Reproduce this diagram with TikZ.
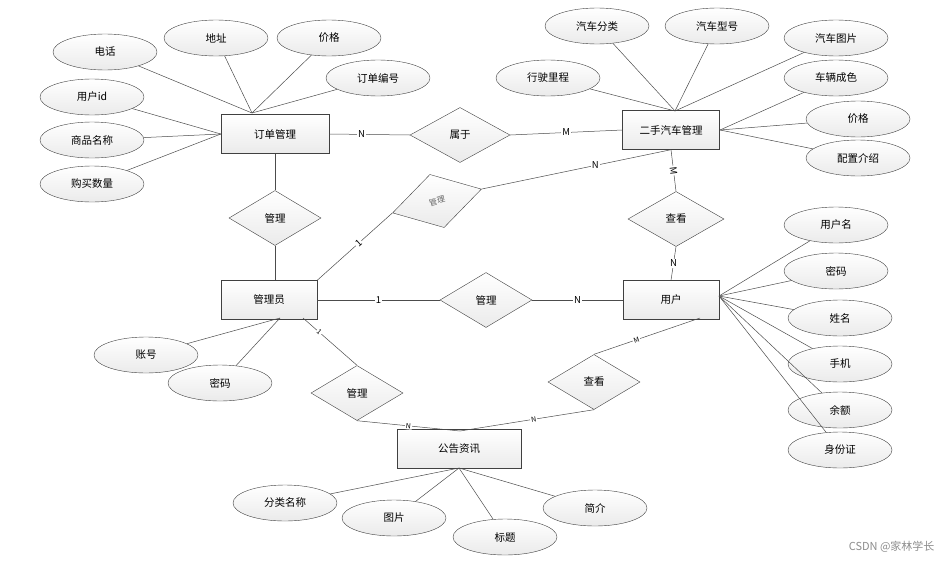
\documentclass[tikz,border=0pt]{standalone}
\usepackage{fontspec}
\setmainfont{Noto Sans CJK SC}
\usetikzlibrary{shapes.geometric}
\begin{document}
\begin{tikzpicture}[x=1pt,y=-1pt,font=\fontsize{10.5}{12}\selectfont,
 ent/.style={draw=black!75,top color=white,bottom color=black!8,minimum width=#1,minimum height=39,inner sep=0},
 rel/.style={diamond,aspect=1.7,draw=black!75,top color=white,bottom color=black!8,minimum width=92,minimum height=55,inner sep=0},
 att/.style={ellipse,draw=black!75,top color=white,bottom color=black!8,minimum width=104,minimum height=36,inner sep=0},
 ln/.style={draw=black!70,line width=0.5pt},
 lab/.style={fill=white,inner sep=1pt,font=\fontsize{9.5}{10}\selectfont}]
\useasboundingbox (0,0) rectangle (941,562);
% entities
\node[ent=108] (dd) at (275,134) {订单管理};
\node[ent=97] (car) at (671,130) {二手汽车管理};
\node[ent=96] (adm) at (269,300) {管理员};
\node[ent=96] (usr) at (671,300) {用户};
\node[ent=124] (ggs) at (459,449) {公告资讯};
% relations
\node[rel,minimum width=100] (sy) at (460,135) {属于};
\node[rel] (gl1) at (275,218) {管理};
\node[rel,minimum width=96] (ck1) at (676,219) {查看};
\node[rel] (gl2) at (486,300) {管理};
\node[rel] (gl3) at (357,393) {管理};
\node[rel] (ck2) at (594,382) {查看};
\node[rel,rotate=15,font=\fontsize{8}{9}\selectfont,text=black!60] (glt) at (437,201) {管理};
% attributes
\foreach \n/\p/\t in {a1/{105,52}/电话, a2/{216,38}/地址, a3/{329,38}/价格, a4/{378,78}/订单编号, a5/{92,97}/用户id, a6/{92,140}/商品名称, a7/{92,184}/购买数量,
 b1/{597,26}/汽车分类, b2/{717,26}/汽车型号, b3/{836,38}/汽车图片, b4/{548,78}/行驶里程, b5/{836,78}/车辆成色, b6/{858,119}/价格, b7/{858,158}/配置介绍,
 c1/{836,225}/用户名, c2/{836,271}/密码, c3/{840,318}/姓名, c4/{840,364}/手机, c5/{840,410}/余额, c6/{840,450}/身份证,
 d1/{146,355}/账号, d2/{220,383}/密码,
 e1/{285,503}/分类名称, e2/{394,518}/图片, e3/{505,537}/标题, e4/{595,508}/简介}
 \node[att] (\n) at (\p) {\t};
% attribute links
\coordinate (dt) at (252,113);
\foreach \n in {a1,a2,a3,a4} \draw[ln] (\n) -- (dt);
\foreach \n in {a5,a6,a7} \draw[ln] (\n) -- (dd.west);
\coordinate (ct) at (675,111);
\foreach \n in {b1,b2,b3,b4} \draw[ln] (\n) -- (ct);
\coordinate (cr) at (720,130);
\foreach \n in {b5,b6,b7} \draw[ln] (\n) -- (cr);
\coordinate (ur) at (719,296);
\foreach \n in {c1,c2,c3,c4,c5,c6} \draw[ln] (\n) -- (ur);
\coordinate (ab) at (280,318);
\foreach \n in {d1,d2} \draw[ln] (\n) -- (ab);
\coordinate (gb) at (459,468);
\foreach \n in {e1,e2,e3,e4} \draw[ln] (\n) -- (gb);
% relation links
\draw[ln] (dd.south -| gl1.north) -- (gl1.north);
\draw[ln] (gl1.south) -- (gl1.south |- adm.north);
\draw[ln] (dd.east) -- node[lab,pos=0.4]{N} (sy.west);
\draw[ln] (sy.east) -- node[lab,pos=0.5]{M} (car.west);
\draw[ln] (adm.north east) -- node[lab,sloped,pos=0.55]{1} (glt.west);
\draw[ln] (glt.east) -- node[lab,pos=0.6]{N} (car.south);
\draw[ln] (car.south) -- node[lab,sloped,pos=0.5]{M} (ck1.north);
\draw[ln] (ck1.south) -- node[lab,pos=0.5]{N} (usr.north);
\draw[ln] (adm.east) -- node[lab,pos=0.5]{1} (gl2.west);
\draw[ln] (gl2.east) -- node[lab,pos=0.5]{N} (usr.west);
\coordinate (as) at (303,318);
\draw[ln] (as) -- node[lab,sloped,pos=0.3,font=\fontsize{7}{8}\selectfont]{1} (gl3.north);
\coordinate (gt) at (460,431);
\draw[ln] (gl3.south) -- node[lab,sloped,pos=0.5,font=\fontsize{7}{8}\selectfont]{N} (gt);
\draw[ln] (ck2.south) -- node[lab,sloped,pos=0.45,font=\fontsize{7}{8}\selectfont]{N} (gt);
\coordinate (ul) at (700,318);
\draw[ln] (ck2.north) -- node[lab,sloped,pos=0.4,font=\fontsize{7}{8}\selectfont]{M} (ul);
\node[text=black!45,font=\fontsize{11}{12}\selectfont,anchor=east] (wm) at (938,547) {CSDN @家林学长};
\end{tikzpicture}
\end{document}
